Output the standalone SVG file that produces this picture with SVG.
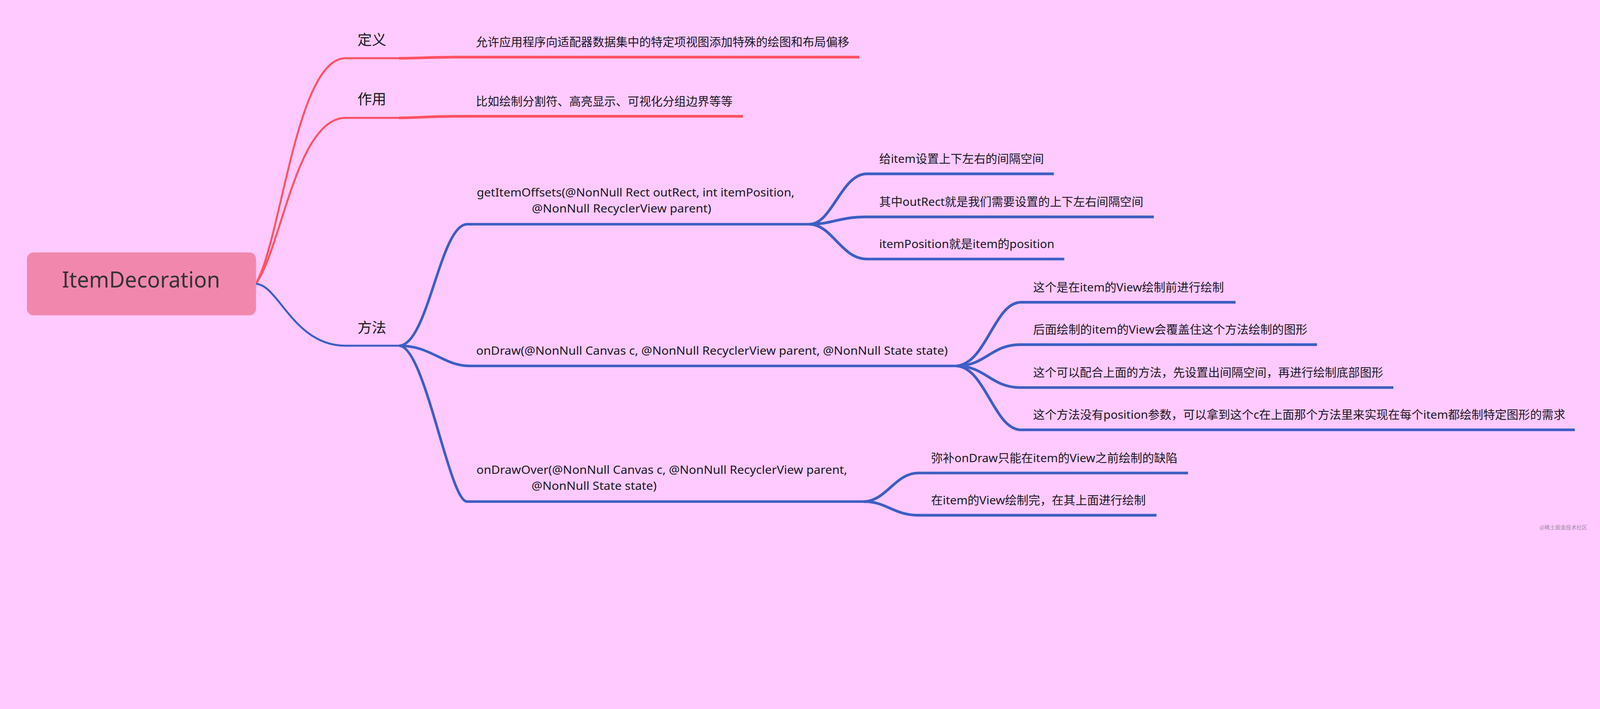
<svg xmlns="http://www.w3.org/2000/svg" width="5343" height="1815" viewBox="0 0 5343 1815" preserveAspectRatio="xMinYMin meet">
<style>
svg{width:100%;height:100%;background:#FFCAFF}
.t{font-family:"Noto Sans","Noto Sans CJK SC",sans-serif;fill:#1b1726}
.l1{font-size:48px}
.l2{font-size:39px}
.root{font-size:74px;fill:#333333}
.wm{font-family:"Noto Sans CJK SC",sans-serif;font-size:17.5px;fill:#9c8aa0}
.red{fill:none;stroke:#FF5263;stroke-linecap:butt}
.blue{fill:none;stroke:#3D5EC3;stroke-linecap:butt}
.w1{stroke-width:6.5}
.w2{stroke-width:8.5}
.w3{stroke-width:9}
</style>
<rect width="5343" height="1815" fill="#FFCAFF"/>
<g id="connectors">
<path class="red w1" d="M855,946 C940,800 990,194.5 1154,194.5 L1336,194.5"/>
<path class="red w1" d="M855,946 C940,830 990,393.5 1154,393.5 L1336,393.5"/>
<path class="red w3" d="M1332,194.5 C1400,194.5 1430,190.8 1520,190.8 L2870,190.8"/>
<path class="red w3" d="M1332,393.5 C1400,393.5 1430,388.4 1520,388.4 L2481,388.4"/>
<path class="blue w1" d="M855,948 C930,950 980,1154.5 1154,1154.5 L1336,1154.5"/>
<path class="blue w2" d="M1334,1154.5 C1430,1150 1470,748.7 1560,748.7 L2709,748.7"/>
<path class="blue w2" d="M1334,1154.5 C1440,1154.5 1480,1222 1570,1222 L3201,1222"/>
<path class="blue w2" d="M1334,1154.5 C1420,1160 1500,1675 1560,1675 L2890,1675"/>
<path class="blue w3" d="M2705,748.7 C2780,745 2810,580.5 2895,580.5 L3519,580.5"/>
<path class="blue w3" d="M2705,748.7 C2780,748.7 2800,724.3 2895,724.3 L3853,724.3"/>
<path class="blue w3" d="M2705,748.7 C2780,752 2810,865 2895,865 L3554,865"/>
<path class="blue w3" d="M3195,1222 C3295,1212 3320,1009.4 3410,1009.4 L4126,1009.4"/>
<path class="blue w3" d="M3195,1222 C3290,1222 3310,1150.8 3407,1150.8 L4398,1150.8"/>
<path class="blue w3" d="M3195,1222 C3290,1222 3310,1294.2 3407,1294.2 L4653,1294.2"/>
<path class="blue w3" d="M3195,1222 C3290,1228 3320,1435.4 3410,1435.4 L5259,1435.4"/>
<path class="blue w3" d="M2886,1675 C2960,1672 2990,1579.5 3066,1579.5 L3967,1579.5"/>
<path class="blue w3" d="M2886,1675 C2960,1675 2985,1720.5 3066,1720.5 L3862,1720.5"/>
</g>
<g id="root">
<rect x="90" y="843" width="765" height="210" rx="22" ry="22" fill="#F287AD"/>
<text class="t root" x="207" y="960" textLength="528" lengthAdjust="spacingAndGlyphs">ItemDecoration</text>
</g>
<g id="n-definition"><text class="t l1" x="1194" y="149.5">定义</text></g>
<g id="n-definition-text"><text class="t l2" x="1589" y="154">允许应用程序向适配器数据集中的特定项视图添加特殊的绘图和布局偏移</text></g>
<g id="n-usage"><text class="t l1" x="1194" y="348.5">作用</text></g>
<g id="n-usage-text"><text class="t l2" x="1589" y="352">比如绘制分割符、高亮显示、可视化分组边界等等</text></g>
<g id="n-methods"><text class="t l1" x="1194" y="1111">方法</text></g>
<g id="n-getitemoffsets">
<text class="t l2" x="1592" y="656" textLength="1061" lengthAdjust="spacingAndGlyphs">getItemOffsets(@NonNull Rect outRect, int itemPosition,</text>
<text class="t l2" x="1776" y="710" textLength="599" lengthAdjust="spacingAndGlyphs">@NonNull RecyclerView parent)</text>
</g>
<g id="n-offsets-1"><text class="t l2" x="2936" y="544.5" textLength="550" lengthAdjust="spacingAndGlyphs">给item设置上下左右的间隔空间</text></g>
<g id="n-offsets-2"><text class="t l2" x="2936" y="687.5" textLength="882" lengthAdjust="spacingAndGlyphs">其中outRect就是我们需要设置的上下左右间隔空间</text></g>
<g id="n-offsets-3"><text class="t l2" x="2936" y="828.5" textLength="585" lengthAdjust="spacingAndGlyphs">itemPosition就是item的position</text></g>
<g id="n-ondraw"><text class="t l2" x="1590" y="1185" textLength="1575" lengthAdjust="spacingAndGlyphs">onDraw(@NonNull Canvas c, @NonNull RecyclerView parent, @NonNull State state)</text></g>
<g id="n-ondraw-1"><text class="t l2" x="3450" y="973" textLength="637" lengthAdjust="spacingAndGlyphs">这个是在item的View绘制前进行绘制</text></g>
<g id="n-ondraw-2"><text class="t l2" x="3450" y="1114.5" textLength="916" lengthAdjust="spacingAndGlyphs">后面绘制的item的View会覆盖住这个方法绘制的图形</text></g>
<g id="n-ondraw-3"><text class="t l2" x="3450" y="1257.5" textLength="1169" lengthAdjust="spacingAndGlyphs">这个可以配合上面的方法，先设置出间隔空间，再进行绘制底部图形</text></g>
<g id="n-ondraw-4"><text class="t l2" x="3450" y="1399" textLength="1777" lengthAdjust="spacingAndGlyphs">这个方法没有position参数，可以拿到这个c在上面那个方法里来实现在每个item都绘制特定图形的需求</text></g>
<g id="n-ondrawover">
<text class="t l2" x="1591" y="1582" textLength="1238" lengthAdjust="spacingAndGlyphs">onDrawOver(@NonNull Canvas c, @NonNull RecyclerView parent,</text>
<text class="t l2" x="1775" y="1636" textLength="418" lengthAdjust="spacingAndGlyphs">@NonNull State state)</text>
</g>
<g id="n-ondrawover-1"><text class="t l2" x="3109" y="1543" textLength="823" lengthAdjust="spacingAndGlyphs">弥补onDraw只能在item的View之前绘制的缺陷</text></g>
<g id="n-ondrawover-2"><text class="t l2" x="3109" y="1684" textLength="717" lengthAdjust="spacingAndGlyphs">在item的View绘制完，在其上面进行绘制</text></g>
<text class="wm" x="5141" y="1768" textLength="159" lengthAdjust="spacingAndGlyphs">@稀土掘金技术社区</text>
</svg>
